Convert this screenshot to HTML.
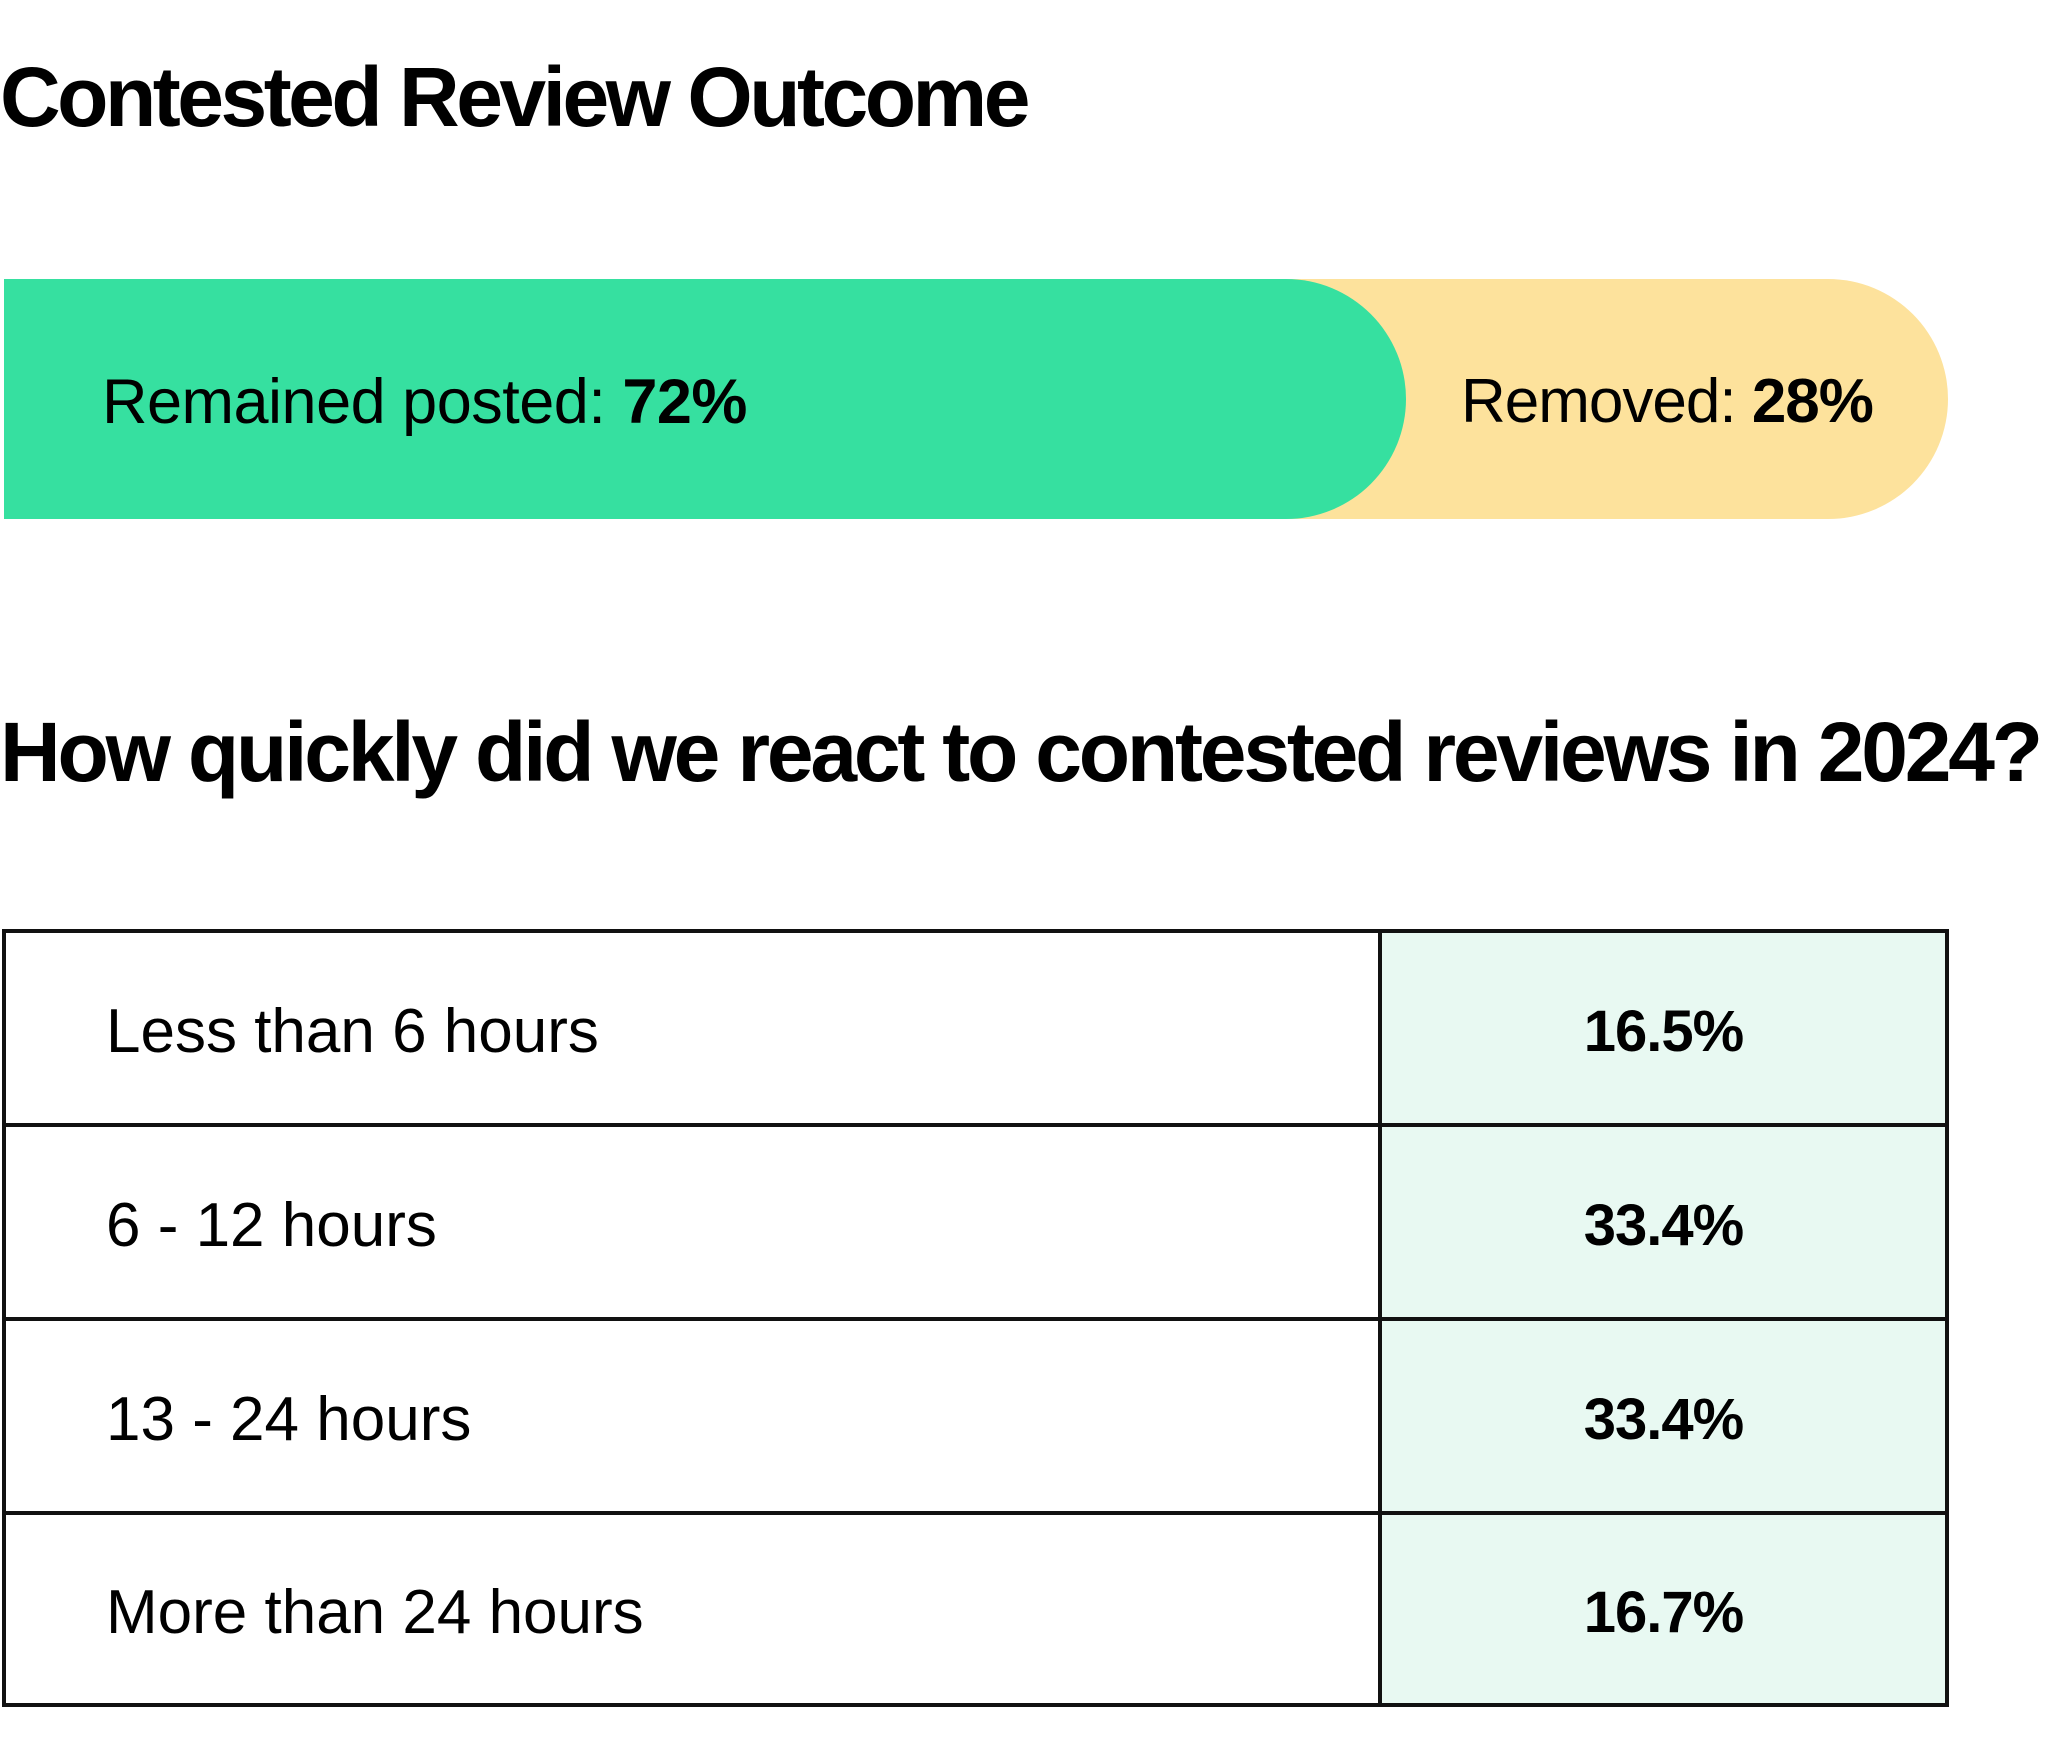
<!DOCTYPE html>
<html><head><meta charset="utf-8"><style>
body{margin:0;width:2046px;height:1749px;background:#fff;font-family:"Liberation Sans",sans-serif;color:#000;position:relative;overflow:hidden}
.t{position:absolute;white-space:nowrap;font-weight:bold}
.bar{position:absolute;top:279px;height:240px}
.c{position:absolute;box-sizing:border-box;display:flex;align-items:center;font-size:62px;white-space:nowrap;padding-top:6px}
.l{left:2px;width:1378px;padding-left:100px;border:4px solid #111;border-right:none}
.r{left:1378px;width:571px;justify-content:center;background:#e8f9f2;border:4px solid #111;font-weight:bold;font-size:58px;letter-spacing:-1px}
</style></head><body>
<div class="t" style="left:0;top:49px;font-size:84px;letter-spacing:-3.5px">Contested Review Outcome</div>
<div class="bar" style="left:4px;width:1944px;background:#fde29c;border-radius:0 120px 120px 0"></div>
<div class="bar" style="left:4px;width:1402px;background:#36e0a0;border-radius:0 120px 120px 0"></div>
<div style="position:absolute;left:102px;top:366px;font-size:63px;white-space:nowrap;letter-spacing:-0.5px">Remained posted: <b>72%</b></div>
<div style="position:absolute;left:1461px;top:366px;font-size:62px;white-space:nowrap;letter-spacing:-1px">Removed: <b>28%</b></div>
<div class="t" style="left:0;top:704px;font-size:84px;letter-spacing:-3.2px">How quickly did we react to contested reviews in 2024?</div>
<div class="c l" style="top:929px;height:198px">Less than 6 hours</div><div class="c r" style="top:929px;height:198px">16.5%</div>
<div class="c l" style="top:1123px;height:198px">6 - 12 hours</div><div class="c r" style="top:1123px;height:198px">33.4%</div>
<div class="c l" style="top:1317px;height:198px">13 - 24 hours</div><div class="c r" style="top:1317px;height:198px">33.4%</div>
<div class="c l" style="top:1511px;height:196px">More than 24 hours</div><div class="c r" style="top:1511px;height:196px">16.7%</div>
</body></html>
